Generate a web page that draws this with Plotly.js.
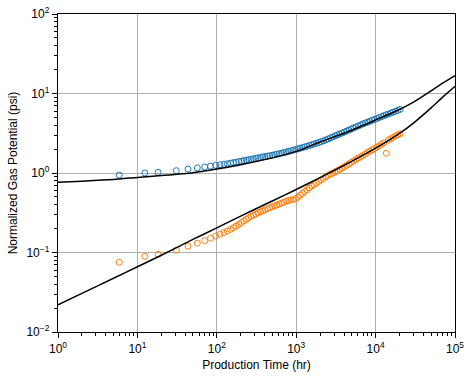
<!DOCTYPE html>
<html>
<head>
<meta charset="utf-8">
<script src="https://cdn.plot.ly/plotly-3.0.1.min.js"></script>
<style>html,body{margin:0;padding:0;background:#fff;}#chart{width:474px;height:379px;}</style>
</head>
<body>
<div id="chart"></div>
<script>
// Production times (hr), shared by both measured series
var time = [5.9, 12.4, 18.2, 30.9, 43.4, 56.8, 70.4, 83.3, 96.9, 110, 123, 136, 149, 162, 175, 190, 205, 220, 236, 252,
  270, 290, 310, 330, 355, 380, 405, 435, 465, 500, 535, 570, 610, 655, 700, 750, 800, 855, 915, 980,
  1050, 1120, 1200, 1280, 1370, 1470, 1570, 1680, 1800, 1930, 2060, 2200, 2360, 2520, 2700, 2890, 3090, 3300, 3530, 3780,
  4040, 4320, 4620, 4940, 5290, 5660, 6050, 6470, 6920, 7400, 7920, 8470, 9060, 9690, 10400, 11100, 11900, 12700, 13600, 14500,
  15500, 16600, 17800, 19000, 20300];

// Blue series: normalized gas potential (psi)
var blueValues = [0.94, 1.0, 1.02, 1.07, 1.12, 1.16, 1.19, 1.22, 1.25, 1.27, 1.29, 1.31, 1.33, 1.35, 1.37, 1.39, 1.41, 1.43, 1.45, 1.47,
  1.49, 1.51, 1.53, 1.55, 1.57, 1.59, 1.61, 1.63, 1.65, 1.67, 1.70, 1.72, 1.75, 1.78, 1.81, 1.84, 1.87, 1.90, 1.94, 1.97,
  2.01, 2.05, 2.09, 2.13, 2.17, 2.22, 2.27, 2.32, 2.37, 2.42, 2.48, 2.54, 2.61, 2.68, 2.76, 2.85, 2.93, 3.01, 3.09, 3.18,
  3.27, 3.37, 3.47, 3.58, 3.69, 3.80, 3.91, 4.03, 4.15, 4.25, 4.35, 4.47, 4.60, 4.72, 4.85, 4.98, 5.12, 5.26, 5.40, 5.53,
  5.67, 5.82, 5.98, 6.13, 6.30];

// Orange series: normalized gas potential (psi)
var orangeValues = [0.0753, 0.0895, 0.0948, 0.107, 0.120, 0.131, 0.141, 0.151, 0.161, 0.170, 0.178, 0.186, 0.195, 0.205, 0.214, 0.226, 0.238, 0.250, 0.262, 0.274,
  0.284, 0.295, 0.305, 0.314, 0.325, 0.335, 0.345, 0.356, 0.366, 0.377, 0.387, 0.396, 0.406, 0.418, 0.428, 0.440, 0.452, 0.458, 0.462, 0.475,
  0.495, 0.525, 0.555, 0.585, 0.615, 0.650, 0.685, 0.715, 0.750, 0.785, 0.820, 0.855, 0.895, 0.930, 0.965, 0.995, 1.03, 1.07, 1.11, 1.15,
  1.20, 1.25, 1.30, 1.36, 1.42, 1.48, 1.54, 1.60, 1.66, 1.73, 1.82, 1.88, 1.95, 2.03, 2.12, 2.20, 2.30, 2.40, 1.77, 2.60,
  2.70, 2.80, 2.92, 3.02, 3.12];

// Model curves (black lines)
var modelTime = [1, 2, 5, 10, 20, 50, 100, 200, 500, 1000, 2000, 5000, 10000, 20000, 30000, 50000, 70000, 100000];
var blueModel = [0.764, 0.79, 0.83, 0.88, 0.93, 1.01, 1.12, 1.27, 1.55, 1.87, 2.45, 3.45, 4.64, 6.3, 7.8, 10.8, 13.5, 16.8];
var orangeModel = [0.0219, 0.0306, 0.0474, 0.0662, 0.0923, 0.146, 0.204, 0.287, 0.445, 0.62, 0.875, 1.40, 2.05, 3.15, 4.25, 6.6, 9.0, 12.3];

// Tick labels
var xTickVals = [1, 10, 100, 1000, 10000, 100000];
var xTickText = ['10<sup>0</sup>', '10<sup>1</sup>', '10<sup>2</sup>', '10<sup>3</sup>', '10<sup>4</sup>', '10<sup>5</sup>'];
var yTickVals = [0.01, 0.1, 1, 10, 100];
var yTickText = ['10<sup>\u22122</sup>', '10<sup>\u22121</sup>', '10<sup>0</sup>', '10<sup>1</sup>', '10<sup>2</sup>'];

var FONT = 'Liberation Sans, Arial, sans-serif';

var traces = [
  {x: time, y: blueValues, mode: 'markers', type: 'scatter',
   marker: {symbol: 'circle-open', size: 6, color: '#1f77b4', line: {width: 1, color: '#1f77b4'}}},
  {x: time, y: orangeValues, mode: 'markers', type: 'scatter',
   marker: {symbol: 'circle-open', size: 6, color: '#ff7f0e', line: {width: 1, color: '#ff7f0e'}}},
  {x: modelTime, y: blueModel, mode: 'lines', type: 'scatter',
   line: {color: '#000', width: 1.5, shape: 'spline', smoothing: 0.6}},
  {x: modelTime, y: orangeModel, mode: 'lines', type: 'scatter',
   line: {color: '#000', width: 1.5, shape: 'spline', smoothing: 0.6}}
];

function axis(vals, text, range, title) {
  return {
    type: 'log', range: range, autorange: false,
    tickmode: 'array', tickvals: vals, ticktext: text,
    ticks: 'outside', ticklen: 5, tickwidth: 1, tickcolor: '#000',
    showline: true, linecolor: '#000', linewidth: 1.3, mirror: true,
    showgrid: true, gridcolor: '#b0b0b0', gridwidth: 1,
    zeroline: false,
    tickfont: {family: FONT, size: 12, color: '#000'},
    title: {text: title, font: {family: FONT, size: 12, color: '#000'}, standoff: 6},
    minor: {tickmode: 'linear', tick0: 0, dtick: 'D1', ticks: 'outside', ticklen: 2.5, tickwidth: 1, tickcolor: '#000', showgrid: false}
  };
}

var layout = {
  width: 474, height: 379,
  margin: {l: 58, r: 19, t: 14, b: 47},
  paper_bgcolor: '#fff', plot_bgcolor: '#fff',
  showlegend: false,
  xaxis: axis(xTickVals, xTickText, [0, 5], 'Production Time (hr)'),
  yaxis: axis(yTickVals, yTickText, [-2, 2], 'Normalized Gas Potential (psi)'),
  font: {family: FONT, color: '#000'}
};

Plotly.newPlot('chart', traces, layout, {displayModeBar: false, staticPlot: true});
</script>
</body>
</html>
